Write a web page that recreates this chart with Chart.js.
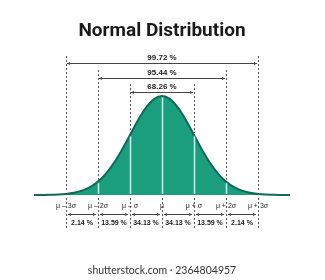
<!DOCTYPE html>
<html>
<head>
<meta charset="utf-8">
<script src="https://cdn.jsdelivr.net/npm/chart.js@4.4.0/dist/chart.umd.min.js"></script>
<style>
  html, body { margin: 0; padding: 0; background: #fff; }
  #wrap { width: 325px; height: 280px; position: relative; }
</style>
</head>
<body>
<div id="wrap"><canvas id="myChart"></canvas></div>
<script>
// DATA (x in sigma units, height in % of the peak)
var sigmaSteps = [-4, -3.75, -3.5, -3.25, -3, -2.75, -2.5, -2.25, -2, -1.75, -1.5, -1.25, -1, -0.75, -0.5, -0.25, 0,
                  0.25, 0.5, 0.75, 1, 1.25, 1.5, 1.75, 2, 2.25, 2.5, 2.75, 3, 3.25, 3.5, 3.75, 4];
var curveHeights = [0, 0.1, 0.2, 0.5, 1.1, 2.3, 4.4, 7.9, 13.5, 21.6, 32.5, 45.8, 60.7, 75.5, 88.2, 96.9, 100,
                    96.9, 88.2, 75.5, 60.7, 45.8, 32.5, 21.6, 13.5, 7.9, 4.4, 2.3, 1.1, 0.5, 0.2, 0.1, 0];
var tickLabels = ['μ – 3σ', 'μ – 2σ', 'μ – σ', 'μ', 'μ + σ', 'μ + 2σ', 'μ + 3σ'];
var tickSigmas = [-3, -2, -1, 0, 1, 2, 3];
var bandLabels = ['2.14 %', '13.59 %', '34.13 %', '34.13 %', '13.59 %', '2.14 %'];
var spanLabels = ['99.72 %', '95.44 %', '68.26 %'];
var spanSigmas = [3, 2, 1];

var points = sigmaSteps.map(function (s, i) { return { x: s, y: curveHeights[i] }; });

function heightAt(s) {
    return curveHeights[sigmaSteps.indexOf(s)];
}

function arrowLine(ctx, x1, x2, y) {
    ctx.beginPath();
    ctx.moveTo(x1, y);
    ctx.lineTo(x2, y);
    ctx.stroke();
    ctx.beginPath();
    ctx.moveTo(x1, y); ctx.lineTo(x1 + 3, y - 1.5); ctx.lineTo(x1 + 3, y + 1.5); ctx.closePath();
    ctx.moveTo(x2, y); ctx.lineTo(x2 - 3, y - 1.5); ctx.lineTo(x2 - 3, y + 1.5); ctx.closePath();
    ctx.fill();
}

var decorations = {
    id: 'decorations',
    afterDatasetsDraw: function (chart) {
        var ctx = chart.ctx;
        var xs = chart.scales.x, ys = chart.scales.y;
        var base = ys.getPixelForValue(0);
        ctx.save();

        // white dividers inside the bell
        ctx.strokeStyle = '#d4f7ee';
        ctx.lineWidth = 1.5;
        [-2, -1, 0, 1, 2].forEach(function (s) {
            var x = Math.round(xs.getPixelForValue(s)) + 0.5;
            ctx.beginPath();
            ctx.moveTo(x, base - 1);
            ctx.lineTo(x, ys.getPixelForValue(heightAt(s)) + 1.5);
            ctx.stroke();
        });

        // dashed guides
        ctx.strokeStyle = '#555';
        ctx.lineWidth = 1;
        ctx.setLineDash([2, 2]);
        var tops = { 3: 56, 2: 70, 1: 84 };
        tickSigmas.forEach(function (s) {
            var x = Math.round(xs.getPixelForValue(s)) + 0.5;
            if (s !== 0) {
                ctx.beginPath();
                ctx.moveTo(x, tops[Math.abs(s)]);
                ctx.lineTo(x, ys.getPixelForValue(heightAt(s)) - 2);
                ctx.stroke();
            }
            ctx.beginPath();
            ctx.moveTo(x, base + 3);
            ctx.lineTo(x, 229);
            ctx.stroke();
        });
        ctx.setLineDash([]);

        // spans above the curve
        ctx.fillStyle = '#222';
        ctx.strokeStyle = '#444';
        ctx.textAlign = 'center';
        ctx.textBaseline = 'middle';
        ctx.font = 'bold 8px "Liberation Sans", Arial, sans-serif';
        var spanY = [63, 78, 92];
        spanSigmas.forEach(function (s, i) {
            var x1 = xs.getPixelForValue(-s) + 1, x2 = xs.getPixelForValue(s) - 1;
            ctx.fillStyle = '#444';
            arrowLine(ctx, x1, x2, spanY[i] + 0.5);
            ctx.fillStyle = '#222';
            ctx.fillText(spanLabels[i], xs.getPixelForValue(0), spanY[i] - 5.5);
        });

        // tick labels and bands below
        ctx.font = '7px "Liberation Sans", Arial, sans-serif';
        tickLabels.forEach(function (t, i) {
            ctx.fillText(t, xs.getPixelForValue(tickSigmas[i]), 206);
        });
        ctx.font = 'bold 7px "Liberation Sans", Arial, sans-serif';
        bandLabels.forEach(function (t, i) {
            var x1 = xs.getPixelForValue(tickSigmas[i]) + 2, x2 = xs.getPixelForValue(tickSigmas[i + 1]) - 2;
            ctx.fillStyle = '#444';
            arrowLine(ctx, x1, x2, 214.5);
            ctx.fillStyle = '#222';
            ctx.fillText(t, (x1 + x2) / 2, 223);
        });

        // title + footer
        ctx.fillStyle = '#1a1a1a';
        ctx.font = 'bold 19px Roboto, sans-serif';
        ctx.fillText('Normal Distribution', 162, 31);
        ctx.fillStyle = '#333';
        ctx.font = '10.5px Lato, sans-serif';
        ctx.fillText('shutterstock.com · 2364804957', 162, 271);
        ctx.restore();
    }
};

const mainChart = new Chart('myChart', {
    type: 'line',
    data: {
        datasets: [{
            data: points,
            borderColor: '#0f6b58',
            borderWidth: 2,
            backgroundColor: '#1a9e7d',
            fill: 'origin',
            pointRadius: 0,
            cubicInterpolationMode: 'monotone',
            clip: 6
        }]
    },
    options: {
        responsive: true,
        maintainAspectRatio: false,
        animation: false,
        layout: { padding: { left: 34, right: 35, top: 96, bottom: 85 } },
        scales: {
            x: { type: 'linear', min: -4, max: 4, display: false },
            y: { min: 0, max: 100, display: false }
        },
        plugins: { legend: { display: false }, tooltip: { enabled: false } }
    },
    plugins: [decorations]
});
</script>
</body>
</html>
